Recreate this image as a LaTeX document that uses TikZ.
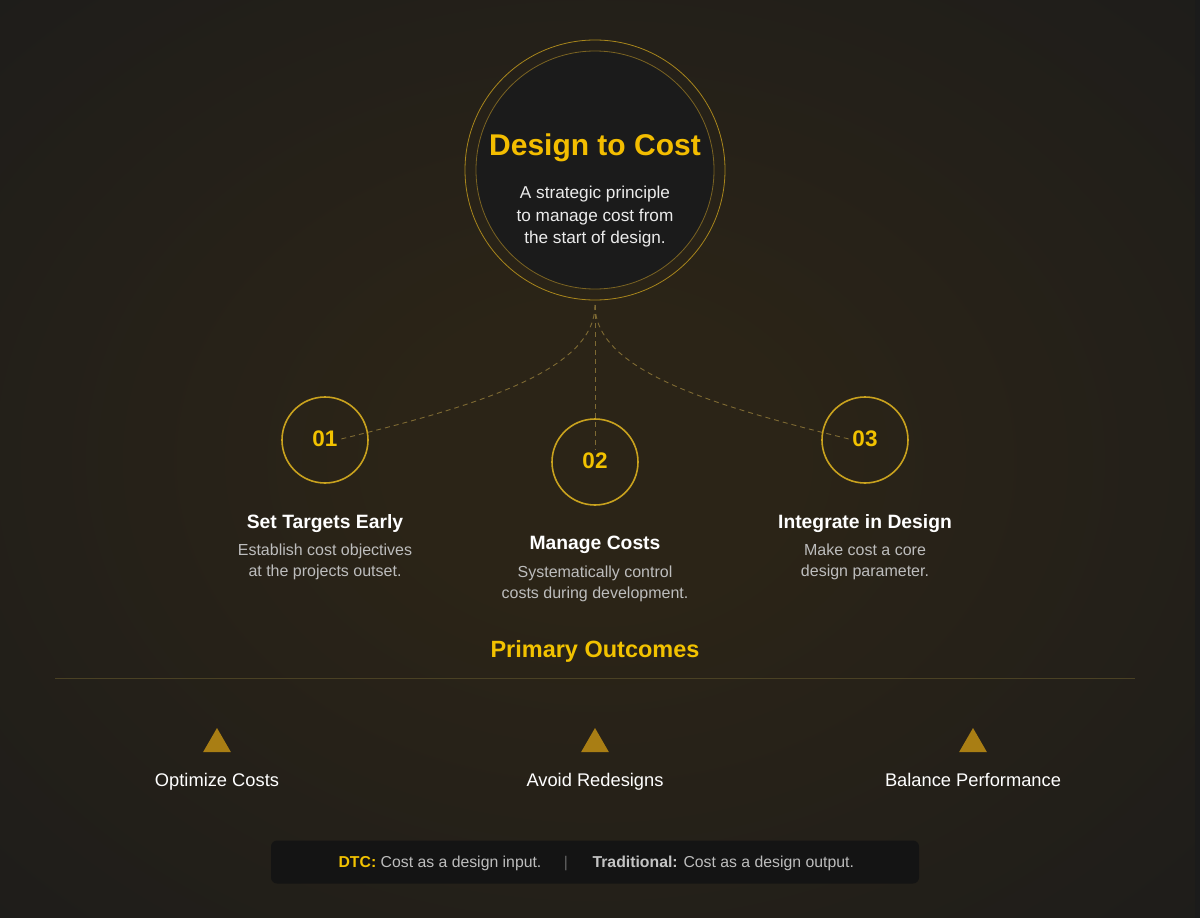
\documentclass[tikz,border=0pt]{standalone}
\usepackage{fontspec}
\setmainfont{Liberation Sans}
\usetikzlibrary{shapes.geometric}
\definecolor{bgc}{HTML}{1B1B1B}
\definecolor{glowc}{HTML}{2B2417}
\definecolor{gold}{HTML}{F2C200}
\definecolor{ringc}{HTML}{C9A21E}
\definecolor{outring}{HTML}{A8861C}
\definecolor{ringdim}{HTML}{7A6322}
\definecolor{dashc}{HTML}{7E6A33}
\definecolor{descc}{HTML}{BDBDBD}
\definecolor{tric}{HTML}{A97E14}
\definecolor{linec}{HTML}{4A4124}
\definecolor{boxc}{HTML}{141414}
\pgfdeclareradialshading{glow}{\pgfpoint{0bp}{0bp}}{color(0bp)=(glowc); color(8bp)=(glowc); color(42bp)=(bgc); color(50bp)=(bgc)}
\begin{document}
\begin{tikzpicture}[x=1pt,y=-1pt,
  numcirc/.style={circle,draw=ringc,line width=1.6pt,minimum size=86pt,inner sep=0pt},
  numtxt/.style={text=gold,font=\bfseries\fontsize{22.5}{24}\selectfont},
  headtxt/.style={text=white,anchor=base,font=\bfseries\fontsize{19.3}{20}\selectfont},
  desctxt/.style={text=descc,font=\fontsize{16}{21.5}\selectfont,align=center},
  conn/.style={draw=dashc,line width=0.9pt,dash pattern=on 5pt off 4pt},
  tri/.style={regular polygon,regular polygon sides=3,fill=tric,minimum size=32pt,inner sep=0pt},
  outtxt/.style={text=white,anchor=base,font=\fontsize{18.3}{20}\selectfont}]
\useasboundingbox (0,0) rectangle (1200,918);
\fill[bgc] (0,0) rectangle (1200,918);
\shade[shading=glow] (-5,0) rectangle (1195,920);
% connectors
\coordinate (src) at (595,305);
\node[numtxt] (n1) at (325,439) {01};
\node[numtxt] (n2) at (595,461) {02};
\node[numtxt] (n3) at (865,439) {03};
\draw[conn] (src) .. controls (595,370) and (480,405) .. (n1.east);
\draw[conn] (src) .. controls (595,370) and (710,405) .. (n3.west);
\draw[conn] (src) -- (n2.north);
% main circle
\node[circle,draw=outring,line width=0.8pt,minimum size=260pt,inner sep=0pt] (outer) at (595,170) {};
\node[circle,fill=bgc,draw=ringdim,line width=0.8pt,minimum size=238pt,inner sep=0pt] (inner) at (595,170) {};
\node[text=gold!92!orange,anchor=base,font=\bfseries\fontsize{30}{32}\selectfont] (title) at (595,155) {Design to Cost};
\node[text=white!92!black,font=\fontsize{17.2}{22.5}\selectfont,align=center] (sub) at (595,217) {A strategic principle\\to manage cost from\\the start of design.};
% step circles
\node[numcirc] (c1) at (325,440) {};
\node[numcirc] (c2) at (595,462) {};
\node[numcirc] (c3) at (865,440) {};
\node[headtxt] (h1) at (325,528) {Set Targets Early};
\node[desctxt] (d1) at (325,562) {Establish cost objectives\\at the projects outset.};
\node[headtxt] (h2) at (595,549) {Manage Costs};
\node[desctxt] (d2) at (595,584) {Systematically control\\costs during development.};
\node[headtxt] (h3) at (865,528) {Integrate in Design};
\node[desctxt] (d3) at (865,562) {Make cost a core\\design parameter.};
% outcomes
\node[text=gold,anchor=base,font=\bfseries\fontsize{23.5}{24}\selectfont] (po) at (595,657) {Primary Outcomes};
\coordinate (la) at (55,678);
\coordinate (lb) at (1135,678);
\draw[linec,line width=0.8pt] (la) -- (lb);
\node[tri] (t1) at (217,744) {};
\node[tri] (t2) at (595,744) {};
\node[tri] (t3) at (973,744) {};
\node[outtxt] (o1) at (217,786) {Optimize Costs};
\node[outtxt] (o2) at (595,786) {Avoid Redesigns};
\node[outtxt] (o3) at (973,786) {Balance Performance};
% bottom box
\node[fill=boxc,rounded corners=6pt,minimum width=648pt,minimum height=43pt] (box) at (595,862) {};
\node[font=\fontsize{15.8}{18}\selectfont,anchor=base west] (dtc) at (335,867) {\textcolor{gold}{\bfseries DTC:} \textcolor{descc}{Cost as a design input.}};
\node[font=\fontsize{15.5}{18}\selectfont,text=white!40!black,anchor=base] (sep) at (566,867) {|};
\node[font=\fontsize{15.8}{18}\selectfont,anchor=base west] (trad) at (589,867) {\textcolor{descc!90!white}{\bfseries Traditional:} \textcolor{descc}{Cost as a design output.}};
\end{tikzpicture}
\end{document}
